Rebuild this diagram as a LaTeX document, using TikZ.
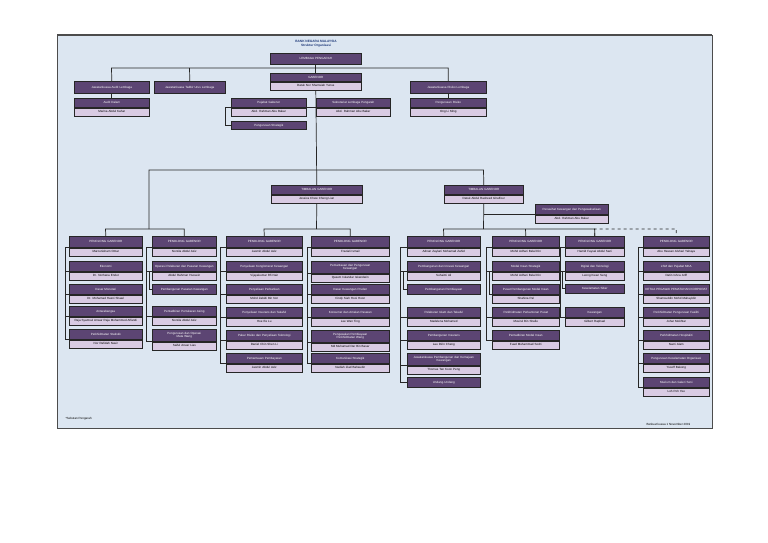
\documentclass[tikz,border=0pt]{standalone}
\usepackage{fontspec}
\setmainfont{Liberation Sans}
\definecolor{bgc}{HTML}{DCE6F1}
\definecolor{hdc}{HTML}{5C4573}
\definecolor{sbc}{HTML}{D9CBE3}
\definecolor{ttl}{HTML}{1F3A7A}
\begin{document}
\begin{tikzpicture}[x=1pt,y=-1pt,
 hd/.style={draw=black!85,line width=0.6pt,fill=hdc,text=white,inner sep=0.3pt,align=center,font=\fontsize{3}{3.5}\selectfont},
 sb/.style={draw=black!85,line width=0.6pt,fill=sbc,text=black,inner sep=0.3pt,align=center,font=\fontsize{3}{3.5}\selectfont},
 ln/.style={line width=0.7pt,draw=black!85}]
\useasboundingbox (0,0) rectangle (768,543);
\fill[white] (0,0) rectangle (768,543);
\fill[bgc] (57,35) rectangle (712,428);
\draw[line width=0.5pt,black!70] (57,35) rectangle (712,428);
\draw[line width=1.5pt,black!70] (57,35) -- (712,35);
\newcommand\PB[7]{%
 \node[hd,minimum width={(#3-#2)*1pt},text width={(#3-#2-2)*1pt},minimum height=#5,anchor=north west] (#1) at (#2,#4) {#6};
 \node[sb,minimum width={(#3-#2)*1pt},text width={(#3-#2-2)*1pt},minimum height=8,anchor=north] (#1s) at (#1.south) {#7};}
\newcommand\SB[6]{%
 \node[hd,minimum width={(#3-#2)*1pt},text width={(#3-#2-2)*1pt},minimum height=#5,anchor=north west] (#1) at (#2,#4) {#6};}
\node[text=ttl,font=\fontsize{3.2}{3.6}\selectfont\bfseries,align=center] (ttl) at (316,44) {BANK NEGARA MALAYSIA\\Struktur Organisasi};
\SB{lp}{270}{361}{53}{11}{LEMBAGA PENGARAH}
\PB{gab}{270}{361}{73}{8}{GABENOR}{Datuk Nor Shamsiah Yunus}
\SB{jaud}{74}{149}{81}{12}{Jawatankuasa Audit Lembaga}
\SB{jtad}{154}{225}{81}{12}{Jawatankuasa Tadbir Urus Lembaga}
\SB{jris}{410}{486}{81}{12}{Jawatankuasa Risiko Lembaga}
\PB{aud}{74}{149}{98}{9}{Audit Dalam}{Marina Abdul Kahar}
\PB{pej}{231}{306}{98}{9}{Pejabat Gabenor}{Abd. Rahman Abu Bakar}
\PB{sek}{316}{390}{98}{9}{Sekretariat Lembaga Pengarah}{Abd. Rahman Abu Bakar}
\SB{pst}{231}{306}{121}{8}{Pengurusan Strategik}
\PB{ris}{410}{486}{98}{9}{Pengurusan Risiko}{Ong Li Ming}
\PB{tg1}{271}{362}{185}{9}{TIMBALAN GABENOR}{Jessica Chew Cheng Lian}
\PB{tg2}{444}{523}{185}{9}{TIMBALAN GABENOR}{Datuk Abdul Rasheed Ghaffour}
\PB{pen}{535}{608}{204}{10}{Penasihat Kewangan dan Pengawalseliaan}{Abd. Rahman Abu Bakar}
\PB{ca}{69}{142}{236}{11}{PENOLONG GABENOR}{Marzunisham Omar}
\PB{ca1}{69}{142}{261}{10}{Ekonomi}{Dr. Norhana Endut}
\PB{ca2}{69}{142}{284}{10}{Dasar Monetari}{Dr. Mohamad Hasni Shaari}
\PB{ca3}{69}{142}{306}{10}{Antarabangsa}{Raja Syamsul Anwar Raja Mohammed Affandi}
\PB{ca4}{69}{142}{329}{10}{Perkhidmatan Statistik}{Nor Rafidah Nasir}
\PB{cb}{152}{216}{236}{11}{PENOLONG GABENOR}{Norzila Abdul Aziz}
\PB{cb1}{152}{216}{261}{10}{Operasi Pelaburan dan Pasaran Kewangan}{Abdul Rahman Hussein}
\SB{cb2}{152}{216}{284}{10}{Pembangunan Pasaran Kewangan}
\PB{cb3}{152}{216}{306}{10}{Pentadbiran Pertukaran Asing}{Norzila Abdul Aziz}
\PB{cb4}{152}{216}{329}{12}{Pengurusan dan Operasi\\Mata Wang}{Saiful Anuar Lias}
\PB{cc}{226}{302}{236}{11}{PENOLONG GABENOR}{Jasmin Abdul Aziz}
\PB{cc1}{226}{302}{261}{10}{Penyeliaan Konglomerat Kewangan}{Vijayakumar Rfi Nair}
\PB{cc2}{226}{302}{284}{10}{Penyeliaan Perbankan}{Mohd Zabidi Bin Nor}
\PB{cc3}{226}{302}{307}{10}{Penyeliaan Insurans dan Takaful}{Hoe Ee Lu}
\PB{cc4}{226}{302}{330}{10}{Pakar Risiko dan Penyeliaan Teknologi}{Daniel Chin Shen Li}
\PB{cc5}{226}{302}{353}{10}{Pemantauan Pembayaran}{Jasmin Abdul Aziz}
\PB{cd}{311}{389}{236}{11}{PENOLONG GABENOR}{Fraziali Ismail}
\PB{cd1}{311}{389}{261}{12}{Pemantauan dan Pengurusan\\Kewangan}{Qasem Iskandar Iskandarin}
\PB{cd2}{311}{389}{284}{10}{Dasar Kewangan Pruden}{Cindy Siah Hooi Hoon}
\PB{cd3}{311}{389}{307}{10}{Konsumer dan Amalan Pasaran}{Lee Wan Ting}
\PB{cd4}{311}{389}{330}{12}{Pengawalan Pembiayaan\\Perkhidmatan Wang}{Md Muhamad Dar Bin Basar}
\PB{cd5}{311}{389}{353}{10}{Komunikasi Strategik}{Nadiah Ziad Bahaudin}
\PB{ce}{407}{480}{236}{11}{PENOLONG GABENOR}{Adnan Zaylani Mohamad Zahid}
\PB{ce1}{407}{480}{261}{10}{Pembangunan dan Inovasi Kewangan}{Suhaimi Ali}
\SB{ce2}{407}{480}{284}{10}{Pembangunan Pembiayaan}
\PB{ce3}{407}{480}{307}{10}{Pelaburan Islam dan Takaful}{Madelena Mohamed}
\PB{ce4}{407}{480}{330}{10}{Pembangunan Insurans}{Lau Dirin Cheng}
\PB{ce5}{407}{480}{353}{12}{Jawatankuasa Pembangunan dan Kemajuan\\Kewangan}{Thomas Tan Koon Peng}
\SB{ce6}{407}{480}{377}{10}{Undang-Undang}
\PB{cf}{492}{559}{236}{11}{PENOLONG GABENOR}{Mohd Adhari Belal Din}
\PB{cf1}{492}{559}{261}{10}{Modal Insan Strategik}{Mohd Adhari Belal Din}
\PB{cf2}{492}{559}{284}{10}{Pusat Pembangunan Modal Insan}{Shahina Pal}
\PB{cf3}{492}{559}{307}{10}{Perkhidmatan Perkantoran Pusat}{Musirul Bin Shafie}
\PB{cf4}{492}{559}{330}{10}{Pentadbiran Modal Insan}{Fuad Muhammad Sodri}
\PB{cg}{565}{624}{236}{11}{PENOLONG GABENOR}{Hamid Faysal Abdul Sani}
\PB{cg1}{565}{624}{261}{10}{Digital dan Teknologi}{Leong Kwan Seng}
\SB{cg2}{565}{624}{284}{9}{Keselamatan Siber}
\PB{cg3}{565}{624}{307}{10}{Kewangan}{Gilbert Raphael}
\PB{ch}{643}{709}{236}{11}{PENOLONG GABENOR}{Abu Hassan Alshari Yahaya}
\PB{ch1}{643}{709}{261}{10}{LSM dan Pejabat MKA}{Datin Ishca Ariff}
\PB{ch2}{643}{709}{284}{10}{KETUA PEGAWAI PEMATUHAN KORPORAT}{Shamsuddin Mohd Mahayidin}
\PB{ch3}{643}{709}{307}{10}{Perkhidmatan Pengurusan Fasiliti}{Johar Mokhtar}
\PB{ch4}{643}{709}{330}{10}{Perkhidmatan Hospitaliti}{Nazri Alam}
\PB{ch5}{643}{709}{353}{10}{Pengurusan Keselamatan Organisasi}{Yusoff Bakong}
\PB{ch6}{643}{709}{377}{10}{Muzium dan Galeri Seni}{Loh Poh Yee}
\begin{scope}[ln]
\draw (lp.south) -- (gab.north);
\draw (jaud.north) -- (111.5,68) -| (jris.north);
\draw (jtad.north) -- (189.5,68);
\draw (jaud.south) -- (aud.north);
\draw (jris.south) -- (ris.north);
\draw (pej.south east) -- (sek.south west);
\draw (pej.south west) -- ++(-6,0) |- (pst.west);
\draw (gabs.south) -- (tg1.north);
\draw (149,229) -- (149,170) -- (483.5,170) -- (tg2.north);
\draw (ca.north) -- (105.5,229) -| (cb.north);
\draw (tg1s.south) -- (316.5,229);
\draw (cc.north) -- (264,229) -| (cd.north);
\draw (tg2s.south) -- (483.5,229);
\draw (pen.south west) -- (tg2s.south|-pen.south west);
\draw (ce.north) -- (443.5,229) -| (cg.north);
\draw (cf.north) -- (525.5,229);
\draw[dashed] (cg.north) -- (594.5,229) -| (ch.north);
\draw (ca.south west) -- ++(-4,0) |- (ca4.south west);
\foreach \n in {ca1,ca2,ca3} \draw (\n.south west) -- ++(-4,0);
\draw (cb.south west) -- ++(-6,0) |- (cb4.south west);
\foreach \n in {cb1,cb3} \draw (\n.south west) -- ++(-6,0);
\draw (cb1.south west) -- ++(-3,0) |- (cb2.west);
\draw (cc.south west) -- ++(-6,0) |- (cc5.south west);
\foreach \n in {cc1,cc2,cc3,cc4} \draw (\n.south west) -- ++(-6,0);
\draw (cd.south west) -- ++(-4,0) |- (cd5.south west);
\foreach \n in {cd1,cd2,cd3,cd4} \draw (\n.south west) -- ++(-4,0);
\draw (ce.south west) -- ++(-7,0) |- (ce6.west);
\foreach \n in {ce1,ce3,ce4,ce5} \draw (\n.south west) -- ++(-7,0);
\draw (ce1.south west) -- ++(-4,0) |- (ce2.west);
\draw (cf.south west) -- ++(-6,0) |- (cf4.south west);
\foreach \n in {cf1,cf3} \draw (\n.south west) -- ++(-6,0);
\draw (cf1.south west) -- ++(-3,0) |- (cf2.south west);
\draw (cg.south west) -- ++(-5,0) |- (cg3.south west);
\draw (cg1.south west) -- ++(-5,0);
\draw (cg1.south west) -- ++(-3,0) |- (cg2.west);
\draw (ch.south west) -- ++(-5,0) |- (ch6.south west);
\foreach \n in {ch1,ch2,ch3,ch4,ch5} \draw (\n.south west) -- ++(-5,0);
\end{scope}
\node[anchor=west,font=\fontsize{3}{3.5}\selectfont] (fn) at (62,419) {*Sebutan Pengarah};
\node[anchor=west,font=\fontsize{3}{3.5}\selectfont] (dt) at (643,424) {Berkuat kuasa 1 November 2019};
\end{tikzpicture}
\end{document}
